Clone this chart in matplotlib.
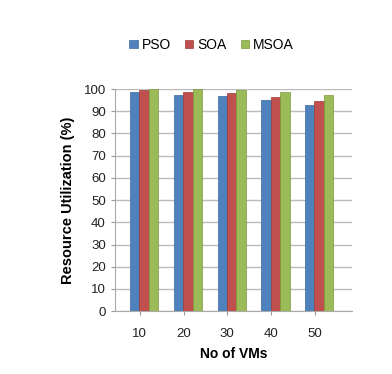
import matplotlib.pyplot as plt
import numpy as np

plt.rcParams['font.family'] = ['Liberation Sans', 'DejaVu Sans']

vms = ['10', '20', '30', '40', '50']
pso = [98.5, 97.5, 97, 95, 93]
soa = [99.5, 98.5, 98, 96.5, 94.5]
msoa = [100, 100, 99.5, 98.5, 97.5]

fig = plt.figure(figsize=(3.92, 3.74), dpi=100)
ax = fig.add_axes([0.293, 0.168, 0.605, 0.594])

x = np.arange(len(vms))
w = 0.215
off = 0.1
ax.bar(x + off - w, pso, w, color='#4F81BD', edgecolor='#3A6A9E', linewidth=0.5, label='PSO', zorder=3)
ax.bar(x + off, soa, w, color='#C0504D', edgecolor='#9E3A37', linewidth=0.5, label='SOA', zorder=3)
ax.bar(x + off + w, msoa, w, color='#9BBB59', edgecolor='#7A9A3A', linewidth=0.5, label='MSOA', zorder=3)

ax.set_xlim(-0.57, 4.85)
ax.set_ylim(0, 100)
ax.set_yticks(range(0, 101, 10))
ax.set_xticks(x)
ax.set_xticklabels(vms)
ax.tick_params(labelsize=9.5, length=3, color='#999999', labelcolor='#222222')
ax.tick_params(axis='x', pad=9)
ax.yaxis.grid(True, color='#BBBBBB', linewidth=1, zorder=0)
for s in ['top', 'right']:
    ax.spines[s].set_visible(False)
ax.spines['left'].set_color('#AAAAAA')
ax.spines['bottom'].set_color('#AAAAAA')

ax.set_ylabel('Resource Utilization (%)', fontsize=10.5, fontweight='bold', labelpad=6)
ax.set_xlabel('No of VMs', fontsize=10, fontweight='bold', labelpad=5)

fig.legend(loc='center', bbox_to_anchor=(0.54, 0.88), ncol=3, frameon=False,
           fontsize=10, handlelength=0.6, handleheight=0.6, handletextpad=0.3, columnspacing=1.0)

fig.savefig('out.png', dpi=100)
